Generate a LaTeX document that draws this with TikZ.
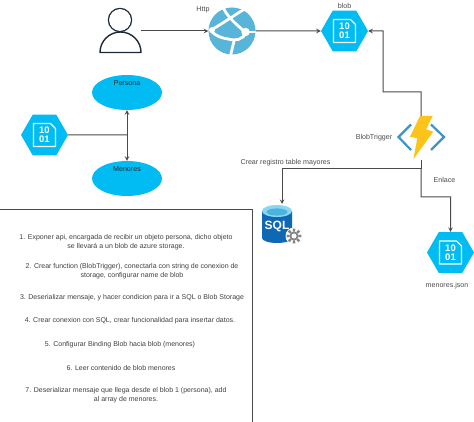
\documentclass[tikz,border=0pt]{standalone}
\usepackage{fontspec}
\setmainfont{Liberation Sans}
\usetikzlibrary{calc,shapes.geometric}
\definecolor{azureblue}{HTML}{00BCF2}
\definecolor{apiblue}{HTML}{59B4D9}
\definecolor{sqlblue}{HTML}{0F68B4}
\definecolor{sqltop}{HTML}{59C6EA}
\definecolor{geargray}{HTML}{858585}
\definecolor{userdark}{HTML}{1F2A38}
\definecolor{linegray}{HTML}{4A4A4A}
\definecolor{boltyellow}{HTML}{FCC419}
\definecolor{chevblue}{HTML}{3D94C8}
\tikzset{
  flow/.style={draw=linegray,line width=1pt,-stealth},
  plainflow/.style={draw=linegray,line width=1pt},
  caption/.style={font=\fontsize{7.1}{8}\selectfont,text=black!70,inner sep=0pt},
  steptext/.style={font=\fontsize{7}{8}\selectfont,text=black!75,inner sep=0pt},
  blobhex/.style={shape=regular polygon,regular polygon sides=6,
    fill=azureblue,minimum size=47pt,inner sep=0pt,text=white,align=center,
    font=\bfseries\fontsize{9.5}{9}\selectfont},
  azellipse/.style={shape=ellipse,fill=azureblue,minimum width=70pt,minimum height=35pt,inner sep=0pt},
}
% hexagon with the little document on it
\newcommand{\blobicon}[3]{
  \node[blobhex] (#1) at (#2,#3) {10\\01};
  \draw[white,line width=1.2pt,line join=round]
    ($(#1)+(-11,-11.5)$) -- ($(#1)+(6,-11.5)$) -- ($(#1)+(11,-6.5)$) -- ($(#1)+(11,11.5)$)
    -- ($(#1)+(-11,11.5)$) -- cycle;
}
\begin{document}
\begin{tikzpicture}[x=1pt,y=-1pt,>=stealth]
    \clip (0,0) rectangle (474,422);
    \fill[white] (0,0) rectangle (474,422);
    % User icon
    \coordinate (user) at (141,31);
    \draw[userdark,line width=1.4pt] (120,20) circle (11.5);
    \draw[userdark,line width=1.4pt,line join=round] (100,52.5) arc[start angle=180,end angle=360,x radius=20.5,y radius=20.5] -- cycle;
    \fill[white] (120,20) circle (10.8);
    % Api globe
    \node[circle,fill=apiblue,minimum size=47pt,inner sep=0pt] (api) at (232,31) {};
    \begin{scope}[white,line width=2.8pt,line cap=round]
      \draw (222,5) .. controls (226,16) and (236,24) .. (245,32);
      \draw (248,7) .. controls (236,14) and (222,24) .. (211,30);
      \draw (245,32) -- (258,32);
      \draw (211,31) .. controls (216,36) and (221,38) .. (228,39);
      \draw (228,39) .. controls (236,41) and (242,40) .. (246,33);
      \draw (234,41) -- (230,58);
      \fill (245.5,32) circle (4.2);
      \fill (212,30) circle (3);
    \end{scope}
    % Blob containers
    \blobicon{blobtop}{344.5}{31}
    \blobicon{blobleft}{44.5}{135}
    \blobicon{blobmenores}{450.5}{252.5}
    % Ellipses
    \node[azellipse] (persona) at (127,92.5) {};
    \node[azellipse] (menores) at (127,178.5) {};
    \node[caption,text=black!85] (personatxt) at (127,83) {Persona};
    \node[caption,text=black!85] (menorestxt) at (127,169) {Menores};
    \coordinate (split) at (127,135);
    \draw[plainflow] (blobleft.east) -- (split);
    \draw[flow] (split) -- (persona.south);
    \draw[flow] (split) -- (menores.north);
    % Function icon
    \coordinate (func) at (421,137);
    \coordinate (functop) at (421,116);
    \coordinate (funcbot) at (421,160);
    \draw[chevblue,line width=2.2pt] (411,124.5) -- (398.5,137) -- (411,150);
    \draw[chevblue,line width=2.2pt] (431,124.5) -- (444,137) -- (431,150);
    \fill[boltyellow] (420,116) -- (432.7,116) -- (426,129.3) -- (433.3,131.7) -- (413.3,159.3) -- (417.3,138.3) -- (410,136.7) -- cycle;
    % SQL icon
    \fill[sqlblue] (262,211) -- (262,238) arc[start angle=180,end angle=0,x radius=15,y radius=5] -- (292,211) -- cycle;
    \fill[sqltop!70!white] (277,211) ellipse (15 and 6);
    \fill[sqltop!80!sqlblue] (277,212) ellipse (10.5 and 3.6);
    \node[font=\bfseries\fontsize{12}{12}\selectfont,text=white,inner sep=0pt] (sqltxt) at (277,226) {SQL};
    \fill[white] (294,236) circle (8.5);
    \foreach \a in {0,45,...,315} {
      \fill[geargray] ($(294,236)+(\a-14:4.5)$) -- ($(294,236)+(\a-10:7.6)$) -- ($(294,236)+(\a+10:7.6)$) -- ($(294,236)+(\a+14:4.5)$) -- cycle;
    }
    \draw[geargray,line width=1.8pt] (294,236) circle (3.6);
    % Connectors
    \draw[flow] (user) -- (api.west);
    \draw[flow] (api.east) -- (blobtop.west);
    \coordinate (bendone) at (421,92);
    \coordinate (bendtwo) at (383,92);
    \coordinate (bendthree) at (383,31);
    \draw[flow] (functop) -- (bendone) -- (bendtwo) -- (bendthree) -- (blobtop.east);
    \coordinate (fork) at (421,169);
    \coordinate (forkleft) at (282,169);
    \coordinate (sqlin) at (282,204);
    \coordinate (forkdown) at (421,197);
    \coordinate (forkright) at (450.5,197);
    \draw[plainflow] (funcbot) -- (fork);
    \draw[flow] (fork) -- (forkleft) -- (sqlin);
    \draw[flow] (fork) -- (forkdown) -- (forkright) -- (blobmenores.north);
    % Labels
    \node[caption] (httplbl) at (203,10) {Http};
    \node[caption] (bloblbl) at (344.5,6) {blob};
    \node[caption] (triggerlbl) at (374,137.5) {BlobTrigger};
    \node[caption] (crearlbl) at (285.5,163) {Crear registro table mayores};
    \node[caption] (enlacelbl) at (444.5,180) {Enlace};
    \node[caption] (jsonlbl) at (447,286) {menores.json};
    % Steps box
    \node[draw=linegray,line width=1pt,minimum width=254pt,minimum height=213pt,inner sep=0pt] (stepsbox) at (125,316) {};
    \foreach \n/\x/\y/\txt in {
      a/126/238/{1. Exponer api, encargada de recibir un objeto persona, dicho objeto},
      b/126/247/{se llevará a un blob de azure storage.},
      c/132/267/{2. Crear function (BlobTrigger), conectarla con string de conexion de},
      d/132/276/{storage, configurar name de blob},
      e/132/298/{3. Deserializar mensaje, y hacer condicion para ir a SQL o Blob Storage},
      f/130/321/{4. Crear conexion con SQL, crear funcionalidad para insertar datos.},
      g/120/345/{5. Configurar Binding Blob hacia blob (menores)},
      h/121/368/{6. Leer contenido de blob menores},
      i/126/391/{7. Deserializar mensaje que llega desde el blob 1 (persona), add},
      j/126/400/{al array de menores.}
    } {
      \node[steptext] (step\n) at (\x,\y) {\txt};
    }
  \end{tikzpicture}
\end{document}
